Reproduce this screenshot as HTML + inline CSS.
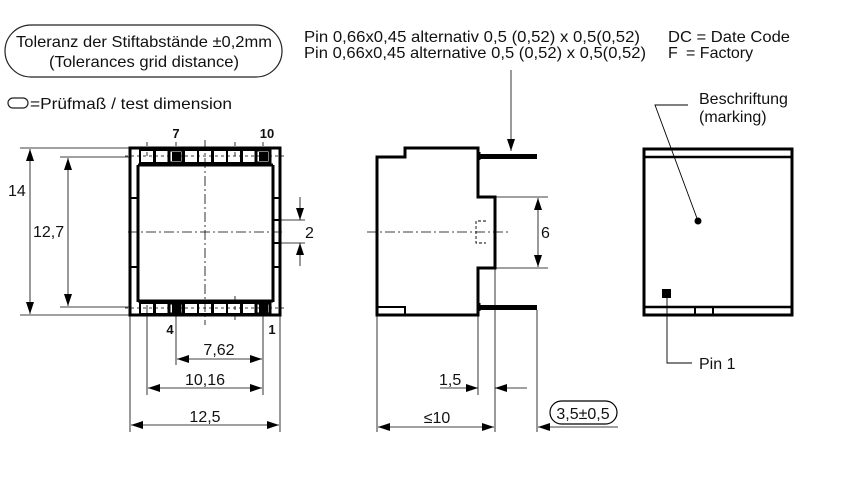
<!DOCTYPE html>
<html><head><meta charset="utf-8"><style>
html,body{margin:0;padding:0;background:#fff;}
svg{display:block;font-family:"Liberation Sans",sans-serif;}
text{font-size:16px;fill:#111;}
</style></head><body>
<svg width="842" height="491" viewBox="0 0 842 491" xmlns="http://www.w3.org/2000/svg">
<defs>
<marker id="a" viewBox="0 0 12 8" refX="12" refY="4" markerWidth="13" markerHeight="8" markerUnits="userSpaceOnUse" orient="auto-start-reverse"><path d="M0,0 L12,4 L0,8 z" fill="#000"/></marker>
</defs>
<rect x="5" y="25" width="277" height="52" rx="26" fill="none" stroke="#222" stroke-width="1.2"/>
<text x="144" y="47" text-anchor="middle" textLength="256" lengthAdjust="spacingAndGlyphs">Toleranz der Stiftabstände ±0,2mm</text>
<text x="144" y="67" text-anchor="middle" textLength="190" lengthAdjust="spacingAndGlyphs">(Tolerances grid distance)</text>
<rect x="8" y="98" width="20" height="10" rx="5" fill="none" stroke="#222" stroke-width="1.2"/>
<text x="30" y="109" textLength="202" lengthAdjust="spacingAndGlyphs">=Prüfmaß / test dimension</text>
<text x="304" y="42" textLength="336" lengthAdjust="spacingAndGlyphs">Pin 0,66x0,45 alternativ 0,5 (0,52) x 0,5(0,52)</text>
<text x="304" y="58" textLength="342" lengthAdjust="spacingAndGlyphs">Pin 0,66x0,45 alternative 0,5 (0,52) x 0,5(0,52)</text>
<text x="668" y="42" textLength="122" lengthAdjust="spacingAndGlyphs">DC = Date Code</text>
<text x="668" y="58">F</text>
<text x="686" y="58">= Factory</text>

<g fill="none" stroke="#000">
<rect x="130" y="148" width="150" height="167" stroke-width="3"/>
<line x1="138" y1="165" x2="138" y2="302" stroke-width="3"/>
<line x1="273" y1="165" x2="273" y2="302" stroke-width="3"/>
<line x1="138" y1="165" x2="273" y2="165" stroke-width="3"/>
<line x1="138" y1="301" x2="273" y2="301" stroke-width="3"/>
<g stroke-width="2">
<line x1="130" y1="198" x2="138" y2="198"/><line x1="130" y1="267" x2="138" y2="267"/>
<line x1="273" y1="198" x2="280" y2="198"/><line x1="273" y1="220" x2="280" y2="220"/>
<line x1="273" y1="243" x2="280" y2="243"/><line x1="273" y1="267" x2="280" y2="267"/>
</g>
<g stroke-width="2">
<rect x="140" y="150" width="14" height="13"/><rect x="155" y="150" width="14" height="13"/>
<rect x="169" y="150" width="14" height="13" stroke-width="3"/><rect x="184" y="150" width="14" height="13"/>
<rect x="198" y="150" width="14" height="13"/><rect x="213" y="150" width="14" height="13"/>
<rect x="227" y="150" width="14" height="13"/><rect x="242" y="150" width="14" height="13"/>
<rect x="256" y="150" width="14" height="13" stroke-width="3"/>
<rect x="140" y="303" width="14" height="11"/><rect x="155" y="303" width="14" height="11"/>
<rect x="169" y="303" width="14" height="11" stroke-width="3"/><rect x="184" y="303" width="14" height="11"/>
<rect x="198" y="303" width="14" height="11"/><rect x="213" y="303" width="14" height="11"/>
<rect x="227" y="303" width="14" height="11"/><rect x="242" y="303" width="14" height="11"/>
<rect x="256" y="303" width="14" height="11" stroke-width="3"/>
</g>
<g stroke-width="0.8" stroke-dasharray="3,3">
<line x1="125" y1="156" x2="285" y2="156"/><line x1="125" y1="308" x2="285" y2="308"/>
</g>
<g stroke-width="0.8">
<line x1="147" y1="142" x2="147" y2="170" stroke-dasharray="4,6"/>
<line x1="176" y1="142" x2="176" y2="170" stroke-dasharray="4,6"/>
<line x1="235" y1="142" x2="235" y2="170" stroke-dasharray="4,6"/>
<line x1="263" y1="142" x2="263" y2="170" stroke-dasharray="4,6"/>
<line x1="235" y1="296" x2="235" y2="320" stroke-dasharray="4,6"/>
<line x1="128" y1="232" x2="285" y2="232" stroke-dasharray="10,3,2,3"/>
<line x1="205" y1="140" x2="205" y2="325" stroke-dasharray="10,3,2,3"/>
<line x1="20" y1="148" x2="130" y2="148"/><line x1="20" y1="315" x2="130" y2="315"/>
<line x1="30" y1="149" x2="30" y2="314" marker-start="url(#a)" marker-end="url(#a)"/>
<line x1="60" y1="157" x2="130" y2="157"/><line x1="60" y1="307" x2="130" y2="307"/>
<line x1="68" y1="158" x2="68" y2="306" marker-start="url(#a)" marker-end="url(#a)"/>
<line x1="280" y1="220" x2="305" y2="220"/><line x1="280" y1="243" x2="305" y2="243"/>
<line x1="300" y1="197" x2="300" y2="220" marker-end="url(#a)"/>
<line x1="300" y1="266" x2="300" y2="243" marker-end="url(#a)"/>
<line x1="176" y1="305" x2="176" y2="365"/><line x1="263" y1="305" x2="263" y2="395"/>
<line x1="147" y1="305" x2="147" y2="395"/>
<line x1="130" y1="315" x2="130" y2="432"/><line x1="280" y1="315" x2="280" y2="432"/>
<line x1="177" y1="359" x2="262" y2="359" marker-start="url(#a)" marker-end="url(#a)"/>
<line x1="148" y1="388" x2="262" y2="388" marker-start="url(#a)" marker-end="url(#a)"/>
<line x1="131" y1="425" x2="279" y2="425" marker-start="url(#a)" marker-end="url(#a)"/>
</g>
<path d="M377,157 H405 V148 H478 V197 H495 V268 H478 V315 H377 Z" stroke-width="3"/>
<path d="M377,307 H405 V315" stroke-width="2"/>
<path d="M479,152 v8 M479,303 v8" stroke-width="3"/>
<line x1="478" y1="156.5" x2="537" y2="156.5" stroke-width="5"/>
<line x1="478" y1="307.5" x2="537" y2="307.5" stroke-width="5"/>
<path d="M486,221 h-10 v22 h10" stroke-width="0.9" stroke-dasharray="3,2"/>
<g stroke-width="0.8">
<line x1="367" y1="232" x2="510" y2="232" stroke-dasharray="10,3,2,3"/>
<line x1="511" y1="70" x2="511" y2="151" marker-end="url(#a)"/>
<line x1="495" y1="197" x2="548" y2="197"/><line x1="495" y1="268" x2="548" y2="268"/>
<line x1="538" y1="198" x2="538" y2="267" marker-start="url(#a)" marker-end="url(#a)"/>
<line x1="478" y1="315" x2="478" y2="395"/><line x1="495" y1="268" x2="495" y2="432"/>
<line x1="377" y1="315" x2="377" y2="432"/><line x1="537" y1="310" x2="537" y2="432"/>
<line x1="440" y1="388" x2="478" y2="388" marker-end="url(#a)"/>
<line x1="527" y1="388" x2="495" y2="388" marker-end="url(#a)"/>
<line x1="378" y1="427" x2="494" y2="427" marker-start="url(#a)" marker-end="url(#a)"/>
<line x1="618" y1="427" x2="538" y2="427" marker-end="url(#a)"/>
<rect x="550" y="401" width="67" height="23" rx="11.5" stroke-width="1.2"/>
</g>
<rect x="644" y="149" width="148" height="166" stroke-width="3"/>
<line x1="644" y1="157" x2="792" y2="157" stroke-width="2.5"/>
<line x1="644" y1="307" x2="792" y2="307" stroke-width="2.5"/>
<line x1="695" y1="307" x2="695" y2="315" stroke-width="2"/>
<line x1="713" y1="307" x2="713" y2="315" stroke-width="2"/>
<g stroke-width="0.9">
<polyline points="688,105 655,105 698,221"/>
<polyline points="667,295 667,363 692,363"/>
</g>
</g>
<circle cx="698" cy="221" r="3.5" fill="#000"/>
<rect x="662" y="289" width="9" height="9" fill="#000"/>
<rect x="172" y="152" width="9" height="9" fill="#000"/><rect x="259" y="152" width="9" height="9" fill="#000"/>
<rect x="172" y="304" width="9" height="9" fill="#000"/><rect x="259" y="304" width="9" height="9" fill="#000"/>

<text x="8" y="196">14</text>
<text x="33" y="237">12,7</text>
<text x="305" y="238">2</text>
<text x="176" y="138" text-anchor="middle" font-weight="bold" style="font-size:13px">7</text>
<text x="267" y="138" text-anchor="middle" font-weight="bold" style="font-size:13px">10</text>
<text x="170" y="334" text-anchor="middle" font-weight="bold" style="font-size:13px">4</text>
<text x="272" y="334" text-anchor="middle" font-weight="bold" style="font-size:13px">1</text>
<text x="219" y="355" text-anchor="middle">7,62</text>
<text x="205" y="385" text-anchor="middle">10,16</text>
<text x="205" y="422" text-anchor="middle">12,5</text>
<text x="541" y="238">6</text>
<text x="439" y="385">1,5</text>
<text x="437" y="423" text-anchor="middle">≤10</text>
<text x="583" y="419" text-anchor="middle">3,5±0,5</text>
<text x="699" y="104">Beschriftung</text>
<text x="699" y="122">(marking)</text>
<text x="699" y="369">Pin 1</text>
</svg>
</body></html>
